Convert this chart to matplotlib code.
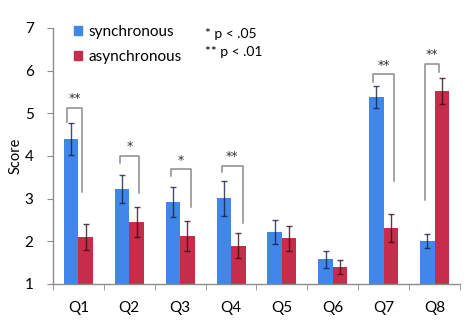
import matplotlib.pyplot as plt
import numpy as np
from matplotlib.patches import Patch

plt.rcParams['font.family'] = ['Lato', 'DejaVu Sans']

questions = ['Q1', 'Q2', 'Q3', 'Q4', 'Q5', 'Q6', 'Q7', 'Q8']
sync = [4.40, 3.22, 2.93, 3.01, 2.22, 1.58, 5.38, 2.00]
sync_err = [0.38, 0.33, 0.35, 0.41, 0.29, 0.20, 0.26, 0.16]
asyn = [2.10, 2.45, 2.12, 1.90, 2.07, 1.40, 2.32, 5.52]
asyn_err = [0.30, 0.36, 0.35, 0.29, 0.30, 0.16, 0.33, 0.31]

# significance brackets: question index, label, top, left leg end, right leg end
sig_q = [0, 1, 2, 3, 6, 7]
sig_lab = ['**', '*', '*', '**', '**', '**']
sig_top = [5.13, 4.00, 3.69, 3.77, 5.91, 6.16]
sig_left = [4.80, 3.83, 3.52, 3.63, 5.74, 2.97]
sig_right = [3.15, 3.13, 2.80, 2.42, 3.41, 5.96]

blue = '#4187EA'
red = '#C62D4B'
grey = '#8c8c8c'

fig = plt.figure(figsize=(4.74, 3.32), dpi=100)
ax = fig.add_axes([0.1118, 0.1446, 0.8586, 0.7711])

x = np.arange(len(questions))
w = 0.285
ax.bar(x - w / 2, sync, w, color=blue, label='synchronous')
ax.bar(x + w / 2, asyn, w, color=red, label='asynchronous')
ax.errorbar(x - w / 2, sync, yerr=sync_err, fmt='none', ecolor='#15204a',
            elinewidth=1, capsize=2, capthick=1, alpha=0.8)
ax.errorbar(x + w / 2, asyn, yerr=asyn_err, fmt='none', ecolor='#3a0a14',
            elinewidth=1, capsize=2, capthick=1, alpha=0.8)

lo = [-0.22, -0.19, -0.18, -0.18, -0.21, -0.19]
ro = [0.08, 0.19, 0.21, 0.23, 0.21, 0.09]
for i, q in enumerate(sig_q):
    xl, xr = q + lo[i], q + ro[i]
    ax.plot([xl, xl, xr, xr], [sig_left[i], sig_top[i], sig_top[i], sig_right[i]],
            color=grey, lw=1.1)
    ax.text((xl + xr) / 2, sig_top[i] + 0.06, sig_lab[i], ha='center', va='bottom',
            fontsize=9, color='#333333', family='DejaVu Sans')

ax.set_xlim(-0.5, 7.5)
ax.set_ylim(1, 7)
ax.set_yticks(range(1, 8))
ax.set_xticks(x)
ax.set_xticklabels(questions)
ax.set_xticks(np.arange(-0.5, 8, 1), minor=True)
ax.tick_params(axis='x', which='major', length=0, pad=12, labelsize=11)
ax.tick_params(axis='x', which='minor', length=4, color=grey)
ax.tick_params(axis='y', length=4, color=grey, pad=10, labelsize=11)
for s in ['top', 'right']:
    ax.spines[s].set_visible(False)
for s in ['left', 'bottom']:
    ax.spines[s].set_color(grey)
    ax.spines[s].set_linewidth(1)
ax.set_ylabel('Score', fontsize=10.5)
ax.yaxis.set_label_coords(-0.074, 0.5)

handles = [Patch(color=blue, label='synchronous'), Patch(color=red, label='asynchronous')]
ax.legend(handles=handles, loc='upper left', bbox_to_anchor=(0.017, 1.065), frameon=False,
          fontsize=11, handlelength=0.55, handleheight=0.55, handletextpad=0.45,
          labelspacing=0.7)

fig.text(0.432, 0.897, '* p < .05', fontsize=10, va='center')
fig.text(0.432, 0.843, '** p < .01', fontsize=10, va='center')

fig.savefig('out.png', dpi=100)
